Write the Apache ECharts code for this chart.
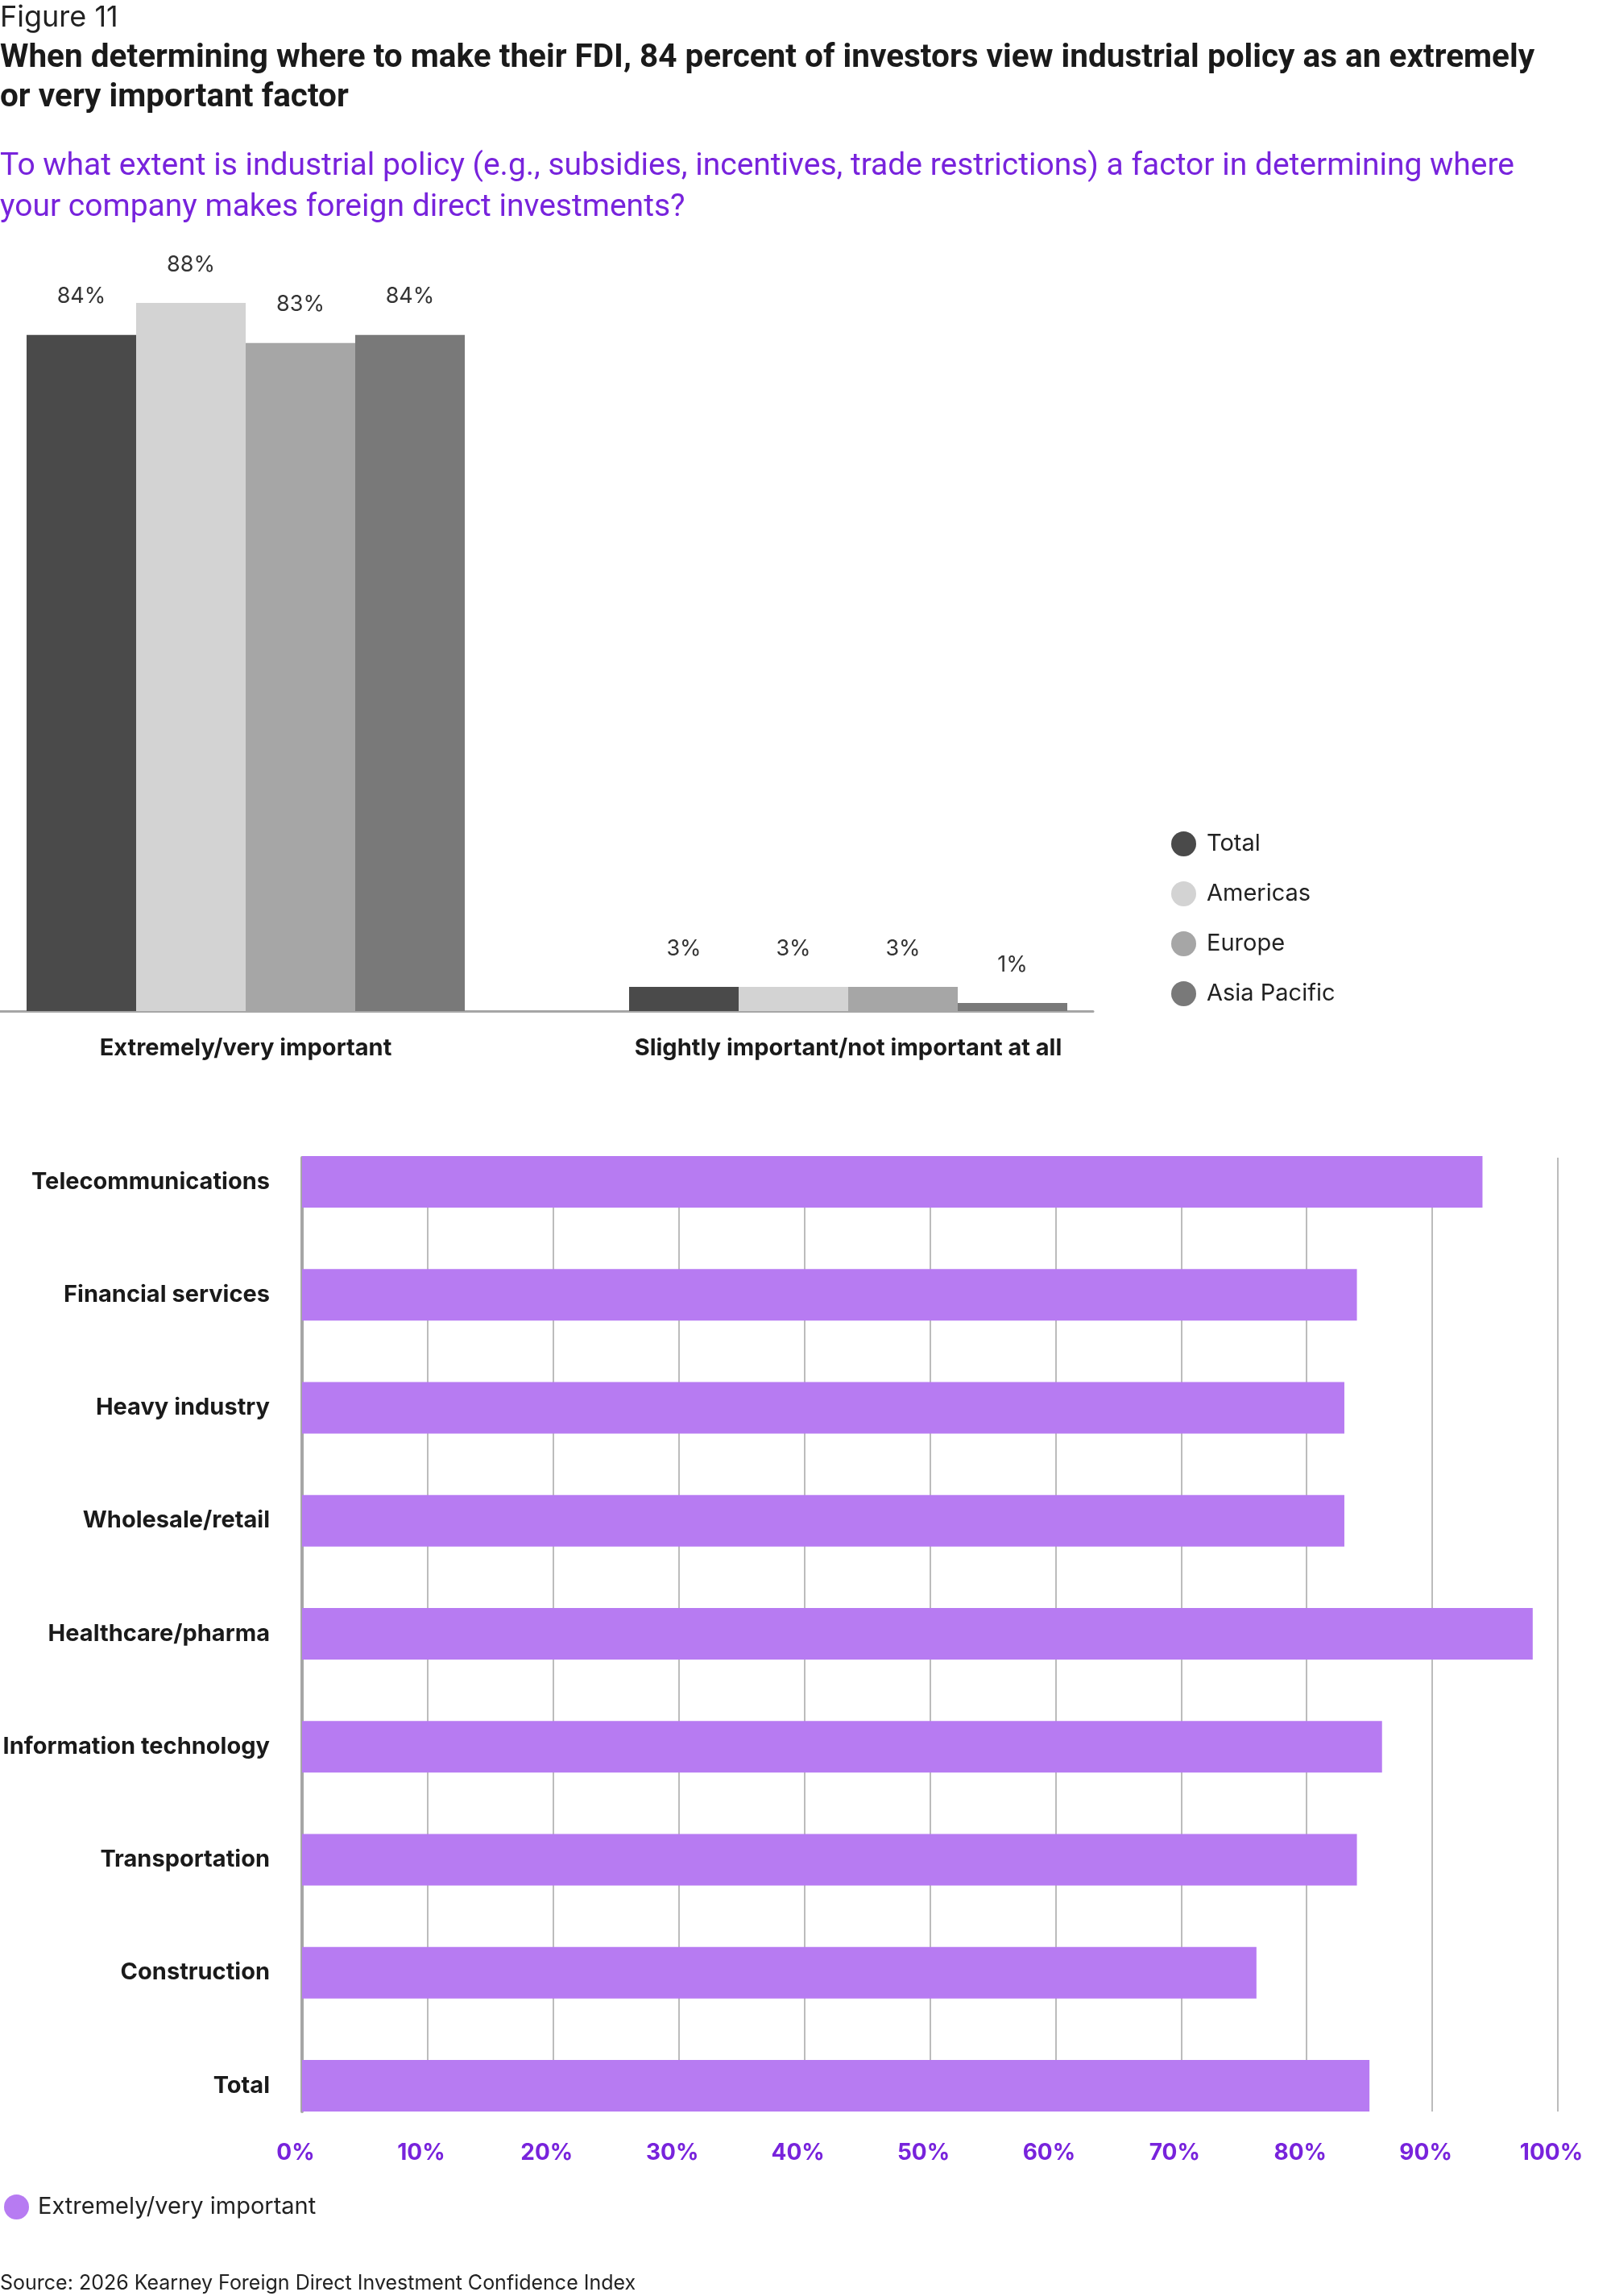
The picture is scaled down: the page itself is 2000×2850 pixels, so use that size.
<!DOCTYPE html>
<html>
<head>
<meta charset="utf-8">
<script src="https://cdn.jsdelivr.net/npm/echarts@6/dist/echarts.min.js"></script>
<style>
  html, body { margin: 0; padding: 0; background: #fff; }
  #main { width: 2000px; height: 2850px; }
</style>
</head>
<body>
<div id="main"></div>
<script>
// 数据
const regionNames = ['Total', 'Americas', 'Europe', 'Asia Pacific'];
const answerCats = ['Extremely/very important', 'Slightly important/not important at all'];
const totalVals = [84, 3];
const americasVals = [88, 3];
const europeVals = [83, 3];
const asiaVals = [84, 1];
const regionColors = ['#4a4a4a', '#d3d3d3', '#a6a6a6', '#797979'];

const industries = ['Telecommunications', 'Financial services', 'Heavy industry', 'Wholesale/retail',
  'Healthcare/pharma', 'Information technology', 'Transportation', 'Construction', 'Total'];
const industryVals = [94, 84, 83, 83, 98, 86, 84, 76, 85];
const industrySeries = 'Extremely/very important';

const FONT = 'Inter, "Noto Sans", sans-serif';
const PURPLE = '#7823dc';

function regionSeries (name, data, color) {
  return {
    name: name,
    type: 'bar',
    xAxisIndex: 0,
    yAxisIndex: 0,
    barWidth: 136,
    barGap: '0%',
    itemStyle: { color: color },
    label: {
      show: true,
      position: 'top',
      distance: 34,
      formatter: '{c}%',
      fontFamily: FONT,
      fontSize: 27,
      color: '#333'
    },
    data: data
  };
}

// 文字行：x, 中心 y
function textLine (txt, y, font, color) {
  return {
    type: 'text',
    x: 0,
    y: y,
    style: { text: txt, font: font, fill: color, verticalAlign: 'middle', textVerticalAlign: 'middle' }
  };
}

const myChart = echarts.init(document.getElementById('main'));
const option = {
  animation: false,
  backgroundColor: '#fff',
  graphic: [
    textLine('Figure 11', 22, '36px ' + FONT, '#222'),
    textLine('When determining where to make their FDI, 84 percent of investors view industrial policy as an extremely', 73, 'bold 40.5px Roboto, sans-serif', '#1a1a1a'),
    textLine('or very important factor', 122, 'bold 40.5px Roboto, sans-serif', '#1a1a1a'),
    textLine('To what extent is industrial policy (e.g., subsidies, incentives, trade restrictions) a factor in determining where', 207, '39px Roboto, sans-serif', PURPLE),
    textLine('your company makes foreign direct investments?', 258, '39px Roboto, sans-serif', PURPLE),
    textLine('Source: 2026 Kearney Foreign Direct Investment Confidence Index', 2834, '25px ' + FONT, '#222')
  ],
  legend: [
    {
      orient: 'vertical',
      left: 1449,
      top: 1027,
      itemWidth: 31,
      itemHeight: 31,
      itemGap: 31,
      icon: 'circle',
      data: regionNames,
      textStyle: { fontFamily: FONT, fontSize: 29, color: '#222', padding: [0, 0, 0, 8] }
    },
    {
      left: 0,
      top: 2719,
      itemWidth: 31,
      itemHeight: 31,
      icon: 'circle',
      data: [industrySeries],
      textStyle: { fontFamily: FONT, fontSize: 29, color: '#222', padding: [0, 0, 0, 6] }
    }
  ],
  grid: [
    // 0: 上图柱子（左边超出画布，让两组柱子居中位置对上）
    { left: -69, top: 256, width: 1496, height: 999, outerBoundsMode: 'none' },
    // 1: 下图柱子
    { left: 375, top: 1397, width: 1559, height: 1262, outerBoundsMode: 'none' },
    // 2: 上图底线
    { left: 0, top: 256, width: 1357, height: 999, outerBoundsMode: 'none' },
    // 3: 下图网格线和刻度
    { left: 375, top: 1437, width: 1559, height: 1184, outerBoundsMode: 'none' }
  ],
  xAxis: [
    {
      gridIndex: 0,
      type: 'category',
      data: answerCats,
      axisLine: { show: false },
      axisTick: { show: false },
      axisLabel: { fontFamily: FONT, fontWeight: 'bold', fontSize: 29, color: '#1a1a1a', margin: 32 }
    },
    {
      gridIndex: 1,
      type: 'value',
      min: 0,
      max: 100,
      show: false
    },
    {
      gridIndex: 2,
      type: 'value',
      min: 0,
      max: 1,
      axisLine: { show: true, onZero: false, lineStyle: { color: '#a6a6a6', width: 3 } },
      axisTick: { show: false },
      axisLabel: { show: false },
      splitLine: { show: false }
    },
    {
      gridIndex: 3,
      type: 'value',
      min: 0,
      max: 100,
      interval: 10,
      axisLine: { show: false },
      axisTick: { show: false },
      splitLine: { show: true, lineStyle: { color: '#a6a6a6', width: 1.5 } },
      axisLabel: { formatter: '{value}%', fontFamily: FONT, fontWeight: 'bold', fontSize: 28, color: PURPLE, margin: 38, padding: [0, 16, 0, 0] }
    }
  ],
  yAxis: [
    {
      gridIndex: 0,
      type: 'value',
      min: 0,
      max: 100,
      show: false
    },
    {
      gridIndex: 1,
      type: 'category',
      inverse: true,
      data: industries,
      axisLine: { show: false },
      axisTick: { show: false },
      axisLabel: { fontFamily: FONT, fontWeight: 'bold', fontSize: 29, color: '#1a1a1a', margin: 40 }
    },
    {
      gridIndex: 2,
      type: 'value',
      min: 0,
      max: 1,
      show: false
    },
    {
      gridIndex: 3,
      type: 'value',
      min: 0,
      max: 1,
      axisLine: { show: true, lineStyle: { color: '#a6a6a6', width: 4 } },
      axisTick: { show: false },
      axisLabel: { show: false },
      splitLine: { show: false }
    }
  ],
  series: [
    regionSeries(regionNames[0], totalVals, regionColors[0]),
    regionSeries(regionNames[1], americasVals, regionColors[1]),
    regionSeries(regionNames[2], europeVals, regionColors[2]),
    regionSeries(regionNames[3], asiaVals, regionColors[3]),
    {
      name: industrySeries,
      type: 'bar',
      xAxisIndex: 1,
      yAxisIndex: 1,
      barWidth: 64,
      z: 5,
      itemStyle: { color: '#b77bf2' },
      data: industryVals
    }
  ]
};
myChart.setOption(option);
window.addEventListener('resize', function () {
  myChart.resize();
});
</script>
</body>
</html>
